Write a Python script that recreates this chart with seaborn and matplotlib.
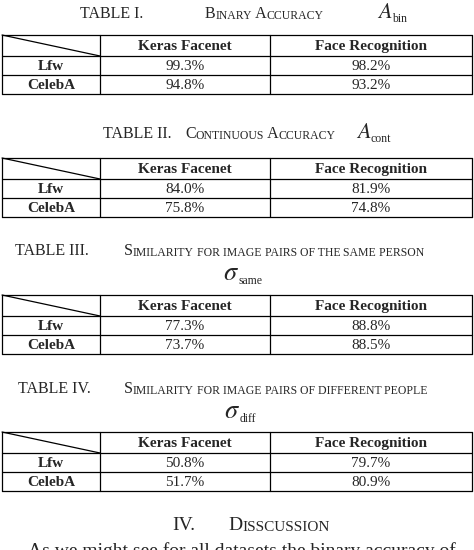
import matplotlib
matplotlib.use("Agg")
import matplotlib.pyplot as plt
import seaborn as sns

sns.set_theme(style="white")
plt.rcParams['font.family'] = ['Liberation Serif', 'DejaVu Serif']
plt.rcParams['mathtext.fontset'] = 'stix'

# data
methods = ["Keras Facenet", "Face Recognition"]
datasets = ["Lfw", "CelebA"]
binary_acc = [["99.3%", "98.2%"], ["94.8%", "93.2%"]]
cont_acc = [["84.0%", "81.9%"], ["75.8%", "74.8%"]]
sim_same = [["77.3%", "88.8%"], ["73.7%", "88.5%"]]
sim_diff = [["50.8%", "79.7%"], ["51.7%", "80.9%"]]

fig = plt.figure(figsize=(4.74, 5.5), dpi=100)
ax = fig.add_axes([0, 0, 1, 1])
ax.set_xlim(0, 474)
ax.set_ylim(550, 0)
ax.axis("off")

cols = [2, 100, 270, 472]


def smallcaps(x, y, words, big=11.5, small=8.5):
    # draw words in small caps by chaining text pieces
    prev = None
    for i, w in enumerate(words):
        pieces = [(w[0], big), (w[1:].upper(), small)] if w[0].isupper() else [(w.upper(), small)]
        if i > 0:
            pieces[0] = (" " + pieces[0][0], pieces[0][1])
        for s, fs in pieces:
            if not s:
                continue
            if prev is None:
                prev = ax.text(x, y, s, fontsize=fs, va="baseline", ha="left")
            else:
                prev = ax.annotate(s, xy=(1, 0), xycoords=prev, fontsize=fs,
                                   va="bottom", ha="left")
    return prev


def table(top, values):
    hs = [21, 19, 19]
    ys = [top, top + hs[0], top + hs[0] + hs[1], top + sum(hs)]
    for y in ys:
        ax.plot([cols[0], cols[-1]], [y, y], color="black", lw=0.9)
    for x in cols:
        ax.plot([x, x], [ys[0], ys[-1]], color="black", lw=0.9)
    ax.plot([cols[0], cols[1]], [ys[0], ys[1]], color="black", lw=0.9)
    for j, m in enumerate(methods):
        ax.text((cols[j + 1] + cols[j + 2]) / 2, (ys[0] + ys[1]) / 2 + 1, m,
                ha="center", va="center", fontsize=11, fontweight="bold")
    for i, d in enumerate(datasets):
        yc = (ys[i + 1] + ys[i + 2]) / 2 + 1
        ax.text((cols[0] + cols[1]) / 2, yc, d, ha="center", va="center",
                fontsize=11, fontweight="bold")
        for j in range(2):
            ax.text((cols[j + 1] + cols[j + 2]) / 2, yc, values[i][j],
                    ha="center", va="center", fontsize=11)


# Table I
ax.text(80, 18, "TABLE I.", fontsize=11.5, va="baseline")
smallcaps(205, 18, ["Binary", "Accuracy"])
ax.text(377, 18, "$A$", fontsize=16, va="baseline")
ax.text(392, 22, "bin", fontsize=8.5, va="baseline")
table(35, binary_acc)

# Table II
ax.text(103, 138, "TABLE II.", fontsize=11.5, va="baseline")
smallcaps(185, 138, ["Continuous", "Accuracy"])
ax.text(356, 138, "$A$", fontsize=16, va="baseline")
ax.text(371, 142, "cont", fontsize=8.5, va="baseline")
table(158, cont_acc)

# Table III
ax.text(15, 255, "TABLE III.", fontsize=11.5, va="baseline")
smallcaps(124, 255, ["Similarity", "for", "image", "pairs", "of", "the", "same", "person"])
ax.text(223, 280, r"$\sigma$", fontsize=19, va="baseline")
ax.text(239, 284, "same", fontsize=8.5, va="baseline")
table(295, sim_same)

# Table IV
ax.text(18, 393, "TABLE IV.", fontsize=11.5, va="baseline")
smallcaps(124, 393, ["Similarity", "for", "image", "pairs", "of", "different", "people"])
ax.text(224, 418, r"$\sigma$", fontsize=19, va="baseline")
ax.text(240, 422, "diff", fontsize=8.5, va="baseline")
table(432, sim_diff)

# section heading
ax.text(172, 530, "IV.", fontsize=14, va="baseline")
smallcaps(228, 530, ["Disscussion"], big=14, small=11)
ax.text(28, 556, "As we might see for all datasets the binary accuracy of",
        fontsize=14, va="baseline", clip_on=True)

fig.savefig("out.png", dpi=100)
